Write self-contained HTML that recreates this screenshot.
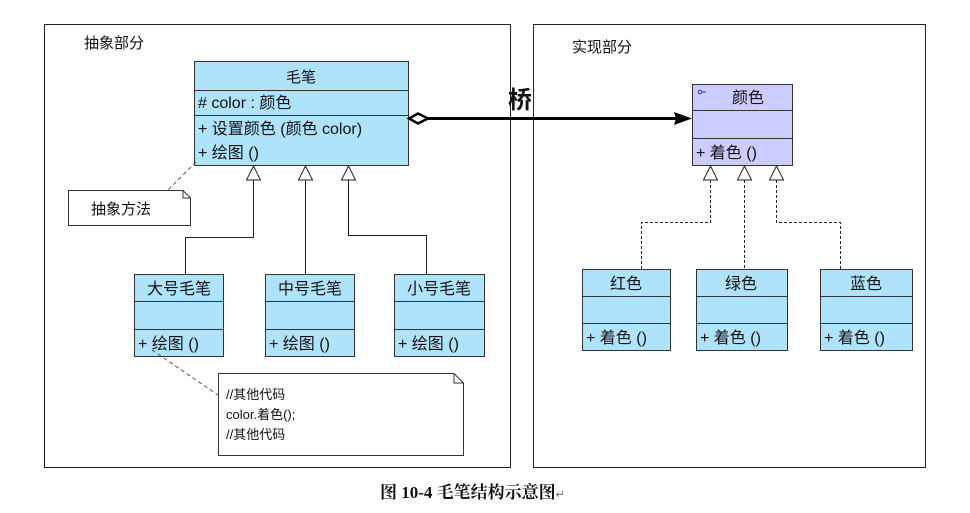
<!DOCTYPE html>
<html><head><meta charset="utf-8"><style>
body{margin:0;background:#fff;width:970px;height:513px;overflow:hidden}
svg{display:block}
text{font-family:"Liberation Sans","Noto Sans CJK SC",sans-serif;font-size:15px;fill:#111}
</style></head><body>
<svg width="970" height="513" viewBox="0 0 970 513">
<rect x="44.5" y="24.5" width="466" height="443" fill="none" stroke="#222"/>
<rect x="533.5" y="24.5" width="392" height="443" fill="none" stroke="#222"/>
<text x="84" y="48">抽象部分</text>
<text x="572" y="52">实现部分</text>
<rect x="194.5" y="61.5" width="214" height="104" fill="#aee3fb" stroke="#333"/>
<line x1="194" y1="90.5" x2="408" y2="90.5" stroke="#333"/>
<line x1="194" y1="115.5" x2="408" y2="115.5" stroke="#333"/>
<text x="301" y="82" text-anchor="middle">毛笔</text>
<text x="198" y="108" style="font-size:16px"># color : 颜色</text>
<text x="198" y="134" style="font-size:16px">+ 设置颜色 (颜色 color)</text>
<text x="198" y="158" style="font-size:16px">+ 绘图 ()</text>
<path d="M68.5 190.5 H183 L190.5 198 V225.5 H68.5 Z" fill="#fff" stroke="#333"/>
<path d="M183 190.5 V198 H190.5" fill="none" stroke="#333"/>
<text x="91" y="214">抽象方法</text>
<line x1="196" y1="162" x2="168" y2="190" stroke="#555" stroke-dasharray="4,3"/>
<path d="M253.5 180 V237.5 H185.5 V274 M305.5 180 V274 M348.5 180 V235.5 H426.5 V274" fill="none" stroke="#222"/>
<g fill="#fff" stroke="#222">
<path d="M253.5 166 L246.5 180 H260.5 Z"/><path d="M305.5 166 L298.5 180 H312.5 Z"/><path d="M348.5 166 L341.5 180 H355.5 Z"/>
</g>
<g stroke="#333" fill="#aee3fb">
<rect x="134.5" y="274.5" width="89" height="82"/><rect x="265.5" y="274.5" width="89" height="82"/><rect x="394.5" y="274.5" width="90" height="82"/>
</g>
<g stroke="#333">
<line x1="134" y1="301.5" x2="223" y2="301.5"/><line x1="134" y1="329.5" x2="223" y2="329.5"/>
<line x1="265" y1="301.5" x2="354" y2="301.5"/><line x1="265" y1="329.5" x2="354" y2="329.5"/>
<line x1="394" y1="301.5" x2="484" y2="301.5"/><line x1="394" y1="329.5" x2="484" y2="329.5"/>
</g>
<text x="179" y="294" text-anchor="middle" style="font-size:16px">大号毛笔</text>
<text x="310" y="294" text-anchor="middle" style="font-size:16px">中号毛笔</text>
<text x="439" y="294" text-anchor="middle" style="font-size:16px">小号毛笔</text>
<text x="138" y="349" style="font-size:16px">+ 绘图 ()</text>
<text x="269" y="349" style="font-size:16px">+ 绘图 ()</text>
<text x="398" y="349" style="font-size:16px">+ 绘图 ()</text>
<path d="M218.5 373.5 H454 L463.5 383 V455.5 H218.5 Z" fill="#fff" stroke="#333"/>
<path d="M454 373.5 V383 H463.5" fill="none" stroke="#333"/>
<line x1="152" y1="350" x2="218" y2="395" stroke="#555" stroke-dasharray="4,3"/>
<text x="226" y="399" style="font-size:13px">//其他代码</text>
<text x="226" y="419" style="font-size:13px">color.着色();</text>
<text x="226" y="439" style="font-size:13px">//其他代码</text>
<line x1="428" y1="118.5" x2="676" y2="118.5" stroke="#000" stroke-width="3"/>
<path d="M409 118.5 L418 113.5 L428 118.5 L418 123.5 Z" fill="#fff" stroke="#000" stroke-width="2.5"/>
<path d="M692 118.5 L674 112 L676 118.5 L674 125 Z" fill="#000"/>
<text x="508" y="108" style="font-size:24px;font-weight:bold">桥</text>
<rect x="692.5" y="84.5" width="100" height="81" fill="#ccccff" stroke="#333"/>
<line x1="692" y1="110.5" x2="792" y2="110.5" stroke="#333"/>
<line x1="692" y1="138.5" x2="792" y2="138.5" stroke="#333"/>
<circle cx="700" cy="92" r="1.8" fill="none" stroke="#33c"/><line x1="702" y1="92" x2="706" y2="92" stroke="#33c"/>
<text x="748" y="103" text-anchor="middle" style="font-size:16px">颜色</text>
<text x="696" y="158" style="font-size:16px">+ 着色 ()</text>
<path d="M710.5 180 V222.5 H641.5 V269 M744.5 180 V269 M776.5 180 V222.5 H840.5 V269" fill="none" stroke="#222" stroke-dasharray="3,2"/>
<g fill="#fff" stroke="#222">
<path d="M710.5 166 L703.5 180 H717.5 Z"/><path d="M744.5 166 L737.5 180 H751.5 Z"/><path d="M776.5 166 L769.5 180 H783.5 Z"/>
</g>
<g stroke="#333" fill="#aee3fb">
<rect x="582.5" y="269.5" width="88" height="81"/><rect x="696.5" y="269.5" width="91" height="81"/><rect x="820.5" y="269.5" width="92" height="81"/>
</g>
<g stroke="#333">
<line x1="582" y1="296.5" x2="670" y2="296.5"/><line x1="582" y1="323.5" x2="670" y2="323.5"/>
<line x1="696" y1="296.5" x2="787" y2="296.5"/><line x1="696" y1="323.5" x2="787" y2="323.5"/>
<line x1="820" y1="296.5" x2="912" y2="296.5"/><line x1="820" y1="323.5" x2="912" y2="323.5"/>
</g>
<text x="626" y="289" text-anchor="middle" style="font-size:16px">红色</text>
<text x="741" y="289" text-anchor="middle" style="font-size:16px">绿色</text>
<text x="866" y="289" text-anchor="middle" style="font-size:16px">蓝色</text>
<text x="586" y="343" style="font-size:16px">+ 着色 ()</text>
<text x="700" y="343" style="font-size:16px">+ 着色 ()</text>
<text x="824" y="343" style="font-size:16px">+ 着色 ()</text>
<text x="380" y="498" style="font-family:'Liberation Serif','Noto Serif CJK SC',serif;font-weight:bold;font-size:17px">图 10-4  毛笔结构示意图<tspan style="font-weight:normal;font-size:11px;fill:#666">↵</tspan></text>
</svg>
</body></html>
